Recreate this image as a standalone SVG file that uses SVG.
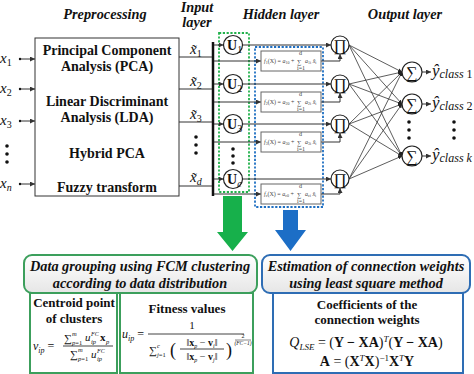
<svg xmlns="http://www.w3.org/2000/svg" width="474" height="374" viewBox="0 0 474 374">
<defs>
<style>
text{font-family:'Liberation Serif','Times New Roman',Times,'DejaVu Serif','Noto Serif',serif}
.t{fill:#111}
.ti{font-weight:bold;font-style:italic;font-size:14.3px;fill:#111;text-anchor:middle}
.bx{font-weight:bold;font-size:14px;fill:#111;text-anchor:middle}
.m{font-style:italic;fill:#111}
.ln{stroke:#333;stroke-width:1;fill:none}
.arr{stroke:#333;stroke-width:1;fill:none;marker-end:url(#ah)}
.arr2{stroke:#333;stroke-width:0.8;fill:none;marker-end:url(#ah2)}
.nd{fill:#fff;stroke:#222;stroke-width:1.2}
.fb{fill:#fff;stroke:#666;stroke-width:1}
.ft{fill:#444;font-size:6px}
.dot{fill:#111}
.gb{fill:#fff;stroke:#3c9f5c;stroke-width:2}
.bb{fill:#fff;stroke:#2e6db4;stroke-width:2}
</style>
<marker id="ah" viewBox="0 0 6 6" refX="6" refY="3" markerWidth="5" markerHeight="5" markerUnits="userSpaceOnUse" orient="auto"><path d="M0,0 L6,3 L0,6 z" fill="#333"/></marker>
<marker id="ah2" viewBox="0 0 6 6" refX="6" refY="3" markerWidth="4" markerHeight="4" markerUnits="userSpaceOnUse" orient="auto"><path d="M0,0 L6,3 L0,6 z" fill="#222"/></marker>
<linearGradient id="hg" x1="0" y1="0" x2="0" y2="1"><stop offset="0" stop-color="#ffffff"/><stop offset="1" stop-color="#e6e6e6"/></linearGradient>
</defs>

<g id="titles">
<text class="ti" x="105" y="19">Preprocessing</text>
<text class="ti" x="197" y="12">Input</text>
<text class="ti" x="197" y="27">layer</text>
<text class="ti" x="281" y="19">Hidden layer</text>
<text class="ti" x="405" y="19">Output layer</text>
</g>

<g id="inputs">
<text class="m" x="0" y="63" font-size="15">x<tspan font-size="10" font-style="normal" dy="3">1</tspan></text>
<text class="m" x="0" y="93" font-size="15">x<tspan font-size="10" font-style="normal" dy="3">2</tspan></text>
<text class="m" x="0" y="125" font-size="15">x<tspan font-size="10" font-style="normal" dy="3">3</tspan></text>
<text class="m" x="0" y="188" font-size="15">x<tspan font-size="10" dy="3">n</tspan></text>
<circle class="dot" cx="7" cy="146" r="1.8"/><circle class="dot" cx="7" cy="154" r="1.8"/><circle class="dot" cx="7" cy="162" r="1.8"/>
</g>

<g id="preprocessing">
<rect x="35" y="38" width="144" height="158" fill="#fff" stroke="#333" stroke-width="1"/>
<text class="bx" x="107" y="55">Principal Component</text>
<text class="bx" x="107" y="71">Analysis (PCA)</text>
<text class="bx" x="107" y="106">Linear Discriminant</text>
<text class="bx" x="107" y="122">Analysis (LDA)</text>
<text class="bx" x="107" y="158">Hybrid PCA</text>
<text class="bx" x="107" y="192">Fuzzy transform</text>
</g>

<g id="input-layer">
<text class="m" x="190" y="54" font-size="15">x̃<tspan font-size="10" font-style="normal" dy="3">1</tspan></text>
<text class="m" x="190" y="86" font-size="15">x̃<tspan font-size="10" font-style="normal" dy="3">2</tspan></text>
<text class="m" x="190" y="119" font-size="15">x̃<tspan font-size="10" font-style="normal" dy="3">3</tspan></text>
<text class="m" x="190" y="182" font-size="15">x̃<tspan font-size="10" dy="3">d</tspan></text>
<circle class="dot" cx="196" cy="137" r="1.8"/><circle class="dot" cx="196" cy="145" r="1.8"/><circle class="dot" cx="196" cy="153" r="1.8"/>
<line x1="213" y1="42" x2="213" y2="196" stroke="#111" stroke-width="2.5"/>
</g>

<rect id="membership-group" x="219" y="33" width="30" height="159" fill="none" stroke="#22b14c" stroke-width="1.8" stroke-dasharray="2.2,1.6"/>
<rect id="consequent-group" x="255" y="47" width="68" height="160" fill="none" stroke="#1f6fc2" stroke-width="1.8" stroke-dasharray="2.2,1.6"/>

<g id="connectors">
<line class="arr" x1="20" y1="59" x2="35" y2="59"/><circle class="dot" cx="20" cy="59" r="1.2"/>
<line class="arr" x1="20" y1="89" x2="35" y2="89"/><circle class="dot" cx="20" cy="89" r="1.2"/>
<line class="arr" x1="20" y1="121" x2="35" y2="121"/><circle class="dot" cx="20" cy="121" r="1.2"/>
<line class="arr" x1="20" y1="184" x2="35" y2="184"/><circle class="dot" cx="20" cy="184" r="1.2"/>
<line class="ln" x1="179" y1="57" x2="212" y2="57"/>
<line class="ln" x1="179" y1="89" x2="212" y2="89"/>
<line class="ln" x1="179" y1="122" x2="212" y2="122"/>
<line class="ln" x1="179" y1="186" x2="212" y2="186"/>
<line class="arr" x1="214" y1="45" x2="223.5" y2="45"/>
<line class="arr" x1="214" y1="84" x2="223.5" y2="84"/>
<line class="arr" x1="214" y1="124" x2="223.5" y2="124"/>
<line class="arr" x1="214" y1="179" x2="223.5" y2="179"/>
<line class="arr" x1="214" y1="61" x2="261" y2="61"/>
<line class="arr" x1="214" y1="102" x2="261" y2="102"/>
<line class="arr" x1="214" y1="142" x2="261" y2="142"/>
<line class="arr" x1="214" y1="194" x2="261" y2="194"/>
<line class="arr" x1="242.5" y1="45" x2="331" y2="45"/>
<line class="arr" x1="242.5" y1="84" x2="331" y2="84"/>
<line class="arr" x1="242.5" y1="124" x2="331" y2="124"/>
<line class="arr" x1="242.5" y1="179" x2="331" y2="179"/>
<path class="arr" d="M321,61 H340 V54"/>
<path class="arr" d="M321,102 H340 V93"/>
<path class="arr" d="M321,142 H340 V133"/>
<path class="arr" d="M321,194 H340 V188"/>
<line class="arr2" x1="349" y1="45" x2="402" y2="72"/>
<line class="arr2" x1="349" y1="45" x2="402" y2="104"/>
<line class="arr2" x1="349" y1="45" x2="402" y2="156"/>
<line class="arr2" x1="349" y1="84" x2="402" y2="72"/>
<line class="arr2" x1="349" y1="84" x2="402" y2="104"/>
<line class="arr2" x1="349" y1="84" x2="402" y2="156"/>
<line class="arr2" x1="349" y1="124" x2="402" y2="72"/>
<line class="arr2" x1="349" y1="124" x2="402" y2="104"/>
<line class="arr2" x1="349" y1="124" x2="402" y2="156"/>
<line class="arr2" x1="349" y1="179" x2="402" y2="72"/>
<line class="arr2" x1="349" y1="179" x2="402" y2="104"/>
<line class="arr2" x1="349" y1="179" x2="402" y2="156"/>
<line class="arr" x1="422" y1="72" x2="431" y2="72"/>
<line class="arr" x1="422" y1="104" x2="431" y2="104"/>
<line class="arr" x1="422" y1="156" x2="431" y2="156"/>
</g>

<g id="U1"><circle class="nd" cx="233" cy="45" r="9.5"/><text class="t" x="227" y="50" font-size="14" font-weight="bold">U<tspan font-size="10" font-weight="normal" dy="3">1</tspan></text></g>
<g id="U2"><circle class="nd" cx="233" cy="84" r="9.5"/><text class="t" x="227" y="89" font-size="14" font-weight="bold">U<tspan font-size="10" font-weight="normal" dy="3">2</tspan></text></g>
<g id="U3"><circle class="nd" cx="233" cy="124" r="9.5"/><text class="t" x="227" y="129" font-size="14" font-weight="bold">U<tspan font-size="10" font-weight="normal" dy="3">3</tspan></text></g>
<g id="U-dots"><circle class="dot" cx="233" cy="149" r="1.8"/><circle class="dot" cx="233" cy="156" r="1.8"/><circle class="dot" cx="233" cy="163" r="1.8"/></g>
<g id="Uc"><circle class="nd" cx="233" cy="179" r="9.5"/><text class="t" x="227" y="184" font-size="14" font-weight="bold">U<tspan font-size="10" font-weight="normal" font-style="italic" dy="3">c</tspan></text></g>

<g id="f1"><rect class="fb" x="261" y="51" width="60" height="20"/>
<text class="ft" x="264" y="63"><tspan font-style="italic">f</tspan><tspan font-size="4" dy="1">1</tspan><tspan dy="-1">(X) = </tspan><tspan font-style="italic">a</tspan><tspan font-size="4" dy="1">10</tspan><tspan dy="-1"> +</tspan></text>
<text class="ft" x="297" y="64" font-size="10">∑</text><text class="ft" x="299" y="55" font-size="4">d</text><text class="ft" x="297" y="70" font-size="3.5">i=1</text>
<text class="ft" x="305" y="63"><tspan font-style="italic">a</tspan><tspan font-size="4" dy="1">1i</tspan><tspan dy="-1" font-style="italic"> x̃</tspan><tspan font-size="4" dy="1">i</tspan></text></g>
<g id="f2"><rect class="fb" x="261" y="92" width="60" height="20"/>
<text class="ft" x="264" y="104"><tspan font-style="italic">f</tspan><tspan font-size="4" dy="1">2</tspan><tspan dy="-1">(X) = </tspan><tspan font-style="italic">a</tspan><tspan font-size="4" dy="1">20</tspan><tspan dy="-1"> +</tspan></text>
<text class="ft" x="297" y="105" font-size="10">∑</text><text class="ft" x="299" y="96" font-size="4">d</text><text class="ft" x="297" y="111" font-size="3.5">i=1</text>
<text class="ft" x="305" y="104"><tspan font-style="italic">a</tspan><tspan font-size="4" dy="1">2i</tspan><tspan dy="-1" font-style="italic"> x̃</tspan><tspan font-size="4" dy="1">i</tspan></text></g>
<g id="f3"><rect class="fb" x="261" y="132" width="60" height="20"/>
<text class="ft" x="264" y="144"><tspan font-style="italic">f</tspan><tspan font-size="4" dy="1">3</tspan><tspan dy="-1">(X) = </tspan><tspan font-style="italic">a</tspan><tspan font-size="4" dy="1">30</tspan><tspan dy="-1"> +</tspan></text>
<text class="ft" x="297" y="145" font-size="10">∑</text><text class="ft" x="299" y="136" font-size="4">d</text><text class="ft" x="297" y="151" font-size="3.5">i=1</text>
<text class="ft" x="305" y="144"><tspan font-style="italic">a</tspan><tspan font-size="4" dy="1">3i</tspan><tspan dy="-1" font-style="italic"> x̃</tspan><tspan font-size="4" dy="1">i</tspan></text></g>
<g id="fc"><rect class="fb" x="261" y="184" width="60" height="20"/>
<text class="ft" x="264" y="196"><tspan font-style="italic">f</tspan><tspan font-size="4" dy="1">c</tspan><tspan dy="-1">(X) = </tspan><tspan font-style="italic">a</tspan><tspan font-size="4" dy="1">c0</tspan><tspan dy="-1"> +</tspan></text>
<text class="ft" x="297" y="197" font-size="10">∑</text><text class="ft" x="299" y="188" font-size="4">d</text><text class="ft" x="297" y="203" font-size="3.5">i=1</text>
<text class="ft" x="305" y="196"><tspan font-style="italic">a</tspan><tspan font-size="4" dy="1">ci</tspan><tspan dy="-1" font-style="italic"> x̃</tspan><tspan font-size="4" dy="1">i</tspan></text></g>

<g id="Pi1"><circle class="nd" cx="340" cy="45" r="9"/><text class="t" x="340" y="51" font-size="16" text-anchor="middle">∏</text></g>
<g id="Pi2"><circle class="nd" cx="340" cy="84" r="9"/><text class="t" x="340" y="90" font-size="16" text-anchor="middle">∏</text></g>
<g id="Pi3"><circle class="nd" cx="340" cy="124" r="9"/><text class="t" x="340" y="130" font-size="16" text-anchor="middle">∏</text></g>
<g id="Pi4"><circle class="nd" cx="340" cy="179" r="9"/><text class="t" x="340" y="185" font-size="16" text-anchor="middle">∏</text></g>

<g id="S1"><circle class="nd" cx="412" cy="72" r="10"/><text class="t" x="412" y="78" font-size="16" text-anchor="middle">∑</text></g>
<g id="S2"><circle class="nd" cx="412" cy="104" r="10"/><text class="t" x="412" y="110" font-size="16" text-anchor="middle">∑</text></g>
<g id="S-dots"><circle class="dot" cx="409" cy="122" r="1.8"/><circle class="dot" cx="409" cy="130" r="1.8"/><circle class="dot" cx="409" cy="138" r="1.8"/>
<circle class="dot" cx="454" cy="122" r="1.8"/><circle class="dot" cx="454" cy="130" r="1.8"/><circle class="dot" cx="454" cy="138" r="1.8"/></g>
<g id="S3"><circle class="nd" cx="412" cy="156" r="10"/><text class="t" x="412" y="162" font-size="16" text-anchor="middle">∑</text></g>

<g id="outputs">
<text class="m" x="432" y="76" font-size="17">ŷ<tspan font-size="12" dy="2">class</tspan><tspan font-size="12" font-style="normal"> 1</tspan></text>
<text class="m" x="432" y="108" font-size="17">ŷ<tspan font-size="12" dy="2">class</tspan><tspan font-size="12" font-style="normal"> 2</tspan></text>
<text class="m" x="432" y="160" font-size="17">ŷ<tspan font-size="12" dy="2">class k</tspan></text>
</g>

<polygon id="green-arrow" points="223,196 242,196 242,232 248,232 232.5,251 217,232 223,232" fill="#17b04b"/>
<polygon id="blue-arrow" points="283,210 298,210 298,230 306,230 290.5,251 275,230 283,230" fill="#1c6ec6"/>

<g id="fcm-header">
<rect x="24" y="255" width="233" height="38" rx="8" fill="url(#hg)" stroke="#3c9f5c" stroke-width="2"/>
<text class="ti" x="140" y="271">Data grouping using FCM clustering</text>
<text class="ti" x="140" y="288">according to data distribution</text>
</g>
<g id="centroid">
<rect class="gb" x="30" y="293" width="87" height="80"/>
<text class="t" x="74" y="307" font-size="13" font-weight="bold" text-anchor="middle">Centroid point</text>
<text class="t" x="74" y="323" font-size="13" font-weight="bold" text-anchor="middle">of clusters</text>
<text class="m" x="33" y="350" font-size="12">v<tspan font-size="8" dy="3">ip</tspan><tspan font-style="normal" dy="-3"> =</tspan></text>
<text class="t" x="64" y="342" font-size="11">∑</text>
<text class="m" x="72" y="336" font-size="6.5">m</text>
<text class="m" x="72" y="345" font-size="6.5">p<tspan font-style="normal">=1</tspan></text>
<text class="m" x="85" y="341" font-size="11">u</text>
<text class="m" x="91" y="336" font-size="6">FC</text>
<text class="m" x="91" y="344" font-size="6.5">ip</text>
<text class="t" x="100" y="341" font-size="11" font-weight="bold">x</text>
<text class="m" x="106" y="344" font-size="6.5">p</text>
<line x1="63" y1="346" x2="113" y2="346" stroke="#111" stroke-width="0.8"/>
<text class="t" x="70" y="358" font-size="11">∑</text>
<text class="m" x="78" y="352" font-size="6.5">m</text>
<text class="m" x="78" y="361" font-size="6.5">p<tspan font-style="normal">=1</tspan></text>
<text class="m" x="91" y="358" font-size="11">u</text>
<text class="m" x="97" y="353" font-size="6">FC</text>
<text class="m" x="97" y="361" font-size="6.5">ip</text>
</g>
<g id="fitness">
<rect class="gb" x="120" y="293" width="133" height="80"/>
<text class="t" x="187" y="313" font-size="13" font-weight="bold" text-anchor="middle">Fitness values</text>
<text class="m" x="122" y="338" font-size="12">u<tspan font-size="8" dy="3">ip</tspan><tspan font-style="normal" dy="-3"> =</tspan></text>
<text class="t" x="192" y="329" font-size="11" text-anchor="middle">1</text>
<line x1="148" y1="334" x2="244" y2="334" stroke="#111" stroke-width="0.8"/>
<text class="t" x="149" y="354" font-size="11">∑</text>
<text class="m" x="157" y="348" font-size="6.5">c</text>
<text class="m" x="157" y="357" font-size="6.5">j<tspan font-style="normal">=1</tspan></text>
<text class="t" x="170" y="356" font-size="18">(</text>
<text class="t" x="202" y="346" font-size="10" text-anchor="middle">‖<tspan font-weight="bold">x</tspan><tspan font-size="6" font-style="italic" dy="2">p</tspan><tspan dy="-2"> − </tspan><tspan font-weight="bold">v</tspan><tspan font-size="6" font-style="italic" dy="2">i</tspan><tspan dy="-2">‖</tspan></text>
<line x1="180" y1="349" x2="224" y2="349" stroke="#111" stroke-width="0.8"/>
<text class="t" x="202" y="360" font-size="10" text-anchor="middle">‖<tspan font-weight="bold">x</tspan><tspan font-size="6" font-style="italic" dy="2">p</tspan><tspan dy="-2"> − </tspan><tspan font-weight="bold">v</tspan><tspan font-size="6" font-style="italic" dy="2">j</tspan><tspan dy="-2">‖</tspan></text>
<text class="t" x="226" y="356" font-size="18">)</text>
<text class="t" x="243" y="338" font-size="6" text-anchor="middle">2</text>
<line x1="235" y1="340" x2="251" y2="340" stroke="#111" stroke-width="0.5"/>
<text class="m" x="243" y="345" font-size="5.5" text-anchor="middle">(FC−1)</text>
</g>

<g id="lse-header">
<rect x="262" y="255" width="208" height="38" rx="8" fill="url(#hg)" stroke="#2e6db4" stroke-width="2"/>
<text class="ti" x="366" y="271">Estimation of connection weights</text>
<text class="ti" x="366" y="288">using least square method</text>
</g>
<g id="lse-body">
<rect class="bb" x="273" y="293" width="190" height="80"/>
<text class="t" x="367" y="309" font-size="13" font-weight="bold" text-anchor="middle">Coefficients of the</text>
<text class="t" x="367" y="324" font-size="13" font-weight="bold" text-anchor="middle">connection weights</text>
<text class="t" x="366" y="347" font-size="14" text-anchor="middle"><tspan font-style="italic">Q</tspan><tspan font-size="9" font-style="italic" dy="3">LSE</tspan><tspan dy="-3"> = (</tspan><tspan font-weight="bold">Y − XA</tspan><tspan>)</tspan><tspan font-size="9" font-style="italic" dy="-5">T</tspan><tspan dy="5">(</tspan><tspan font-weight="bold">Y − XA</tspan><tspan>)</tspan></text>
<text class="t" x="367" y="366" font-size="14" text-anchor="middle"><tspan font-weight="bold">A</tspan> = (<tspan font-weight="bold">X</tspan><tspan font-size="9" font-style="italic" dy="-5">T</tspan><tspan font-weight="bold" dy="5">X</tspan>)<tspan font-size="9" dy="-5">−1</tspan><tspan font-weight="bold" dy="5">X</tspan><tspan font-size="9" font-style="italic" dy="-5">T</tspan><tspan font-weight="bold" dy="5">Y</tspan></text>
</g>
</svg>
